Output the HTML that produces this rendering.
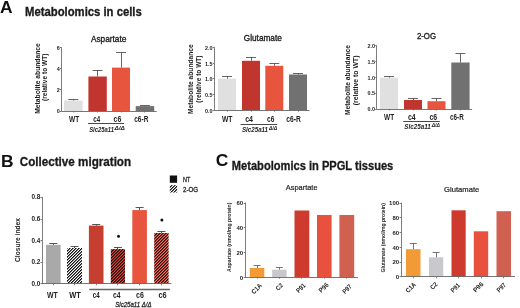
<!DOCTYPE html>
<html><head><meta charset="utf-8"><style>
html,body{margin:0;padding:0;background:#fff;width:520px;height:308px;overflow:hidden}
svg{display:block}
text{font-family:"Liberation Sans", Arial, sans-serif}
</style></head><body>
<svg width="520" height="308" viewBox="0 0 520 308">
<rect width="520" height="308" fill="#fff"/>
<text x="0.00" y="12.60" font-size="17.4" text-anchor="start" font-weight="bold" fill="#111">A</text>
<text x="25.00" y="16.00" font-size="12.0" text-anchor="start" stroke="#1a1a1a" stroke-width="0.3" font-weight="bold" fill="#1a1a1a" textLength="116.80" lengthAdjust="spacingAndGlyphs">Metabolomics in cells</text>
<text x="0.90" y="166.60" font-size="17.4" text-anchor="start" font-weight="bold" fill="#111">B</text>
<text x="19.80" y="166.30" font-size="12.0" text-anchor="start" stroke="#1a1a1a" stroke-width="0.3" font-weight="bold" fill="#1a1a1a" textLength="111.30" lengthAdjust="spacingAndGlyphs">Collective migration</text>
<text x="215.80" y="166.30" font-size="17.4" text-anchor="start" font-weight="bold" fill="#111">C</text>
<text x="231.80" y="170.20" font-size="12.0" text-anchor="start" stroke="#1a1a1a" stroke-width="0.3" font-weight="bold" fill="#1a1a1a" textLength="161.50" lengthAdjust="spacingAndGlyphs">Metabolomics in PPGL tissues</text>
<rect x="64.00" y="100.50" width="18.60" height="10.60" fill="#e0e0e0"/>
<line x1="73.50" y1="99.00" x2="73.50" y2="100.50" stroke="#555" stroke-width="0.9"/>
<line x1="68.30" y1="99.50" x2="78.30" y2="99.50" stroke="#555" stroke-width="0.9"/>
<rect x="88.40" y="76.50" width="18.40" height="34.60" fill="#c0352e"/>
<line x1="97.50" y1="70.30" x2="97.50" y2="76.50" stroke="#555" stroke-width="0.9"/>
<line x1="92.60" y1="70.50" x2="102.60" y2="70.50" stroke="#555" stroke-width="0.9"/>
<rect x="112.00" y="67.60" width="18.00" height="43.50" fill="#e8553f"/>
<line x1="121.50" y1="52.30" x2="121.50" y2="67.60" stroke="#555" stroke-width="0.9"/>
<line x1="116.00" y1="52.50" x2="126.00" y2="52.50" stroke="#555" stroke-width="0.9"/>
<rect x="135.70" y="106.10" width="18.50" height="5.00" fill="#717171"/>
<line x1="144.50" y1="105.10" x2="144.50" y2="106.10" stroke="#555" stroke-width="0.9"/>
<line x1="139.95" y1="105.50" x2="149.95" y2="105.50" stroke="#555" stroke-width="0.9"/>
<line x1="61.50" y1="47.20" x2="61.50" y2="111.50" stroke="#666" stroke-width="0.85"/>
<line x1="59.80" y1="111.50" x2="61.40" y2="111.50" stroke="#666" stroke-width="0.85"/>
<text x="59.70" y="113.34" font-size="5.4" text-anchor="end" font-weight="bold" fill="#1e1e1e">0</text>
<line x1="59.80" y1="89.50" x2="61.40" y2="89.50" stroke="#666" stroke-width="0.85"/>
<text x="59.70" y="92.18" font-size="5.4" text-anchor="end" font-weight="bold" fill="#1e1e1e">2</text>
<line x1="59.80" y1="68.50" x2="61.40" y2="68.50" stroke="#666" stroke-width="0.85"/>
<text x="59.70" y="71.01" font-size="5.4" text-anchor="end" font-weight="bold" fill="#1e1e1e">4</text>
<line x1="59.80" y1="47.50" x2="61.40" y2="47.50" stroke="#666" stroke-width="0.85"/>
<text x="59.70" y="49.84" font-size="5.4" text-anchor="end" font-weight="bold" fill="#1e1e1e">6</text>
<line x1="61.40" y1="111.50" x2="156.70" y2="111.50" stroke="#666" stroke-width="0.9"/>
<line x1="73.50" y1="111.10" x2="73.50" y2="112.50" stroke="#666" stroke-width="0.8"/>
<line x1="97.50" y1="111.10" x2="97.50" y2="112.50" stroke="#666" stroke-width="0.8"/>
<line x1="121.50" y1="111.10" x2="121.50" y2="112.50" stroke="#666" stroke-width="0.8"/>
<line x1="144.50" y1="111.10" x2="144.50" y2="112.50" stroke="#666" stroke-width="0.8"/>
<text x="91.00" y="42.10" font-size="8.7" text-anchor="start" stroke="#1e1e1e" stroke-width="0.35" fill="#1e1e1e" textLength="35.30" lengthAdjust="spacingAndGlyphs">Aspartate</text>
<text x="69.10" y="121.80" font-size="8.6" text-anchor="start" font-weight="bold" fill="#1e1e1e" textLength="10.20" lengthAdjust="spacingAndGlyphs">WT</text>
<text x="93.20" y="121.90" font-size="8.6" text-anchor="start" font-weight="bold" fill="#1e1e1e" textLength="6.90" lengthAdjust="spacingAndGlyphs">c4</text>
<text x="113.60" y="121.90" font-size="8.6" text-anchor="start" font-weight="bold" fill="#1e1e1e" textLength="7.70" lengthAdjust="spacingAndGlyphs">c6</text>
<text x="134.20" y="122.20" font-size="8.6" text-anchor="start" font-weight="bold" fill="#1e1e1e" textLength="14.20" lengthAdjust="spacingAndGlyphs">c6-R</text>
<line x1="88.00" y1="123.50" x2="124.00" y2="123.50" stroke="#333" stroke-width="0.9"/>
<text x="89.20" y="131.80" font-size="7.9" text-anchor="start" font-weight="bold" font-style="italic" fill="#1e1e1e" textLength="24.80" lengthAdjust="spacingAndGlyphs">Slc25a11</text>
<text x="114.40" y="129.60" font-size="5.2" text-anchor="start" font-weight="bold" font-style="italic" fill="#1e1e1e" textLength="10.40" lengthAdjust="spacingAndGlyphs">Δ/Δ</text>
<text x="39.60" y="78.50" font-size="7.4" text-anchor="middle" font-weight="bold" fill="#1e1e1e" textLength="70.50" lengthAdjust="spacingAndGlyphs" transform="rotate(-90 39.60 78.50)">Metabolite abundance</text>
<text x="47.00" y="77.30" font-size="7.4" text-anchor="middle" font-weight="bold" fill="#1e1e1e" textLength="47.30" lengthAdjust="spacingAndGlyphs" transform="rotate(-90 47.00 77.30)">(relative to WT)</text>
<rect x="218.00" y="78.60" width="18.00" height="31.70" fill="#e0e0e0"/>
<line x1="227.50" y1="76.30" x2="227.50" y2="78.60" stroke="#555" stroke-width="0.9"/>
<line x1="222.00" y1="76.50" x2="232.00" y2="76.50" stroke="#555" stroke-width="0.9"/>
<rect x="242.00" y="60.80" width="18.00" height="49.50" fill="#c0352e"/>
<line x1="251.50" y1="57.00" x2="251.50" y2="60.80" stroke="#555" stroke-width="0.9"/>
<line x1="246.00" y1="57.50" x2="256.00" y2="57.50" stroke="#555" stroke-width="0.9"/>
<rect x="265.30" y="65.80" width="18.00" height="44.50" fill="#e8553f"/>
<line x1="274.50" y1="63.00" x2="274.50" y2="65.80" stroke="#555" stroke-width="0.9"/>
<line x1="269.30" y1="63.50" x2="279.30" y2="63.50" stroke="#555" stroke-width="0.9"/>
<rect x="289.00" y="74.50" width="18.00" height="35.80" fill="#717171"/>
<line x1="298.50" y1="73.00" x2="298.50" y2="74.50" stroke="#555" stroke-width="0.9"/>
<line x1="293.00" y1="73.50" x2="303.00" y2="73.50" stroke="#555" stroke-width="0.9"/>
<line x1="214.50" y1="47.20" x2="214.50" y2="110.70" stroke="#666" stroke-width="0.85"/>
<line x1="212.70" y1="110.50" x2="214.30" y2="110.50" stroke="#666" stroke-width="0.85"/>
<text x="212.60" y="112.54" font-size="5.4" text-anchor="end" font-weight="bold" fill="#1e1e1e">0.0</text>
<line x1="212.70" y1="94.50" x2="214.30" y2="94.50" stroke="#666" stroke-width="0.85"/>
<text x="212.60" y="96.87" font-size="5.4" text-anchor="end" font-weight="bold" fill="#1e1e1e">0.5</text>
<line x1="212.70" y1="78.50" x2="214.30" y2="78.50" stroke="#666" stroke-width="0.85"/>
<text x="212.60" y="81.19" font-size="5.4" text-anchor="end" font-weight="bold" fill="#1e1e1e">1.0</text>
<line x1="212.70" y1="63.50" x2="214.30" y2="63.50" stroke="#666" stroke-width="0.85"/>
<text x="212.60" y="65.52" font-size="5.4" text-anchor="end" font-weight="bold" fill="#1e1e1e">1.5</text>
<line x1="212.70" y1="47.50" x2="214.30" y2="47.50" stroke="#666" stroke-width="0.85"/>
<text x="212.60" y="49.84" font-size="5.4" text-anchor="end" font-weight="bold" fill="#1e1e1e">2.0</text>
<line x1="214.30" y1="110.50" x2="309.50" y2="110.50" stroke="#666" stroke-width="0.9"/>
<line x1="227.50" y1="110.30" x2="227.50" y2="111.70" stroke="#666" stroke-width="0.8"/>
<line x1="251.50" y1="110.30" x2="251.50" y2="111.70" stroke="#666" stroke-width="0.8"/>
<line x1="274.50" y1="110.30" x2="274.50" y2="111.70" stroke="#666" stroke-width="0.8"/>
<line x1="298.50" y1="110.30" x2="298.50" y2="111.70" stroke="#666" stroke-width="0.8"/>
<text x="243.80" y="40.50" font-size="8.5" text-anchor="start" stroke="#1e1e1e" stroke-width="0.35" fill="#1e1e1e" textLength="38.00" lengthAdjust="spacingAndGlyphs">Glutamate</text>
<text x="221.90" y="122.30" font-size="8.6" text-anchor="start" font-weight="bold" fill="#1e1e1e" textLength="10.50" lengthAdjust="spacingAndGlyphs">WT</text>
<text x="245.20" y="122.30" font-size="8.6" text-anchor="start" font-weight="bold" fill="#1e1e1e" textLength="7.80" lengthAdjust="spacingAndGlyphs">c4</text>
<text x="267.10" y="122.30" font-size="8.6" text-anchor="start" font-weight="bold" fill="#1e1e1e" textLength="7.30" lengthAdjust="spacingAndGlyphs">c6</text>
<text x="286.30" y="122.30" font-size="8.6" text-anchor="start" font-weight="bold" fill="#1e1e1e" textLength="14.60" lengthAdjust="spacingAndGlyphs">c6-R</text>
<line x1="240.60" y1="124.50" x2="277.20" y2="124.50" stroke="#333" stroke-width="0.9"/>
<text x="242.00" y="131.90" font-size="7.9" text-anchor="start" font-weight="bold" font-style="italic" fill="#1e1e1e" textLength="26.00" lengthAdjust="spacingAndGlyphs">Slc25a11</text>
<text x="268.90" y="129.70" font-size="5.2" text-anchor="start" font-weight="bold" font-style="italic" fill="#1e1e1e" textLength="8.30" lengthAdjust="spacingAndGlyphs">Δ/Δ</text>
<text x="193.30" y="79.20" font-size="7.4" text-anchor="middle" font-weight="bold" fill="#1e1e1e" textLength="69.60" lengthAdjust="spacingAndGlyphs" transform="rotate(-90 193.30 79.20)">Metabolite abundance</text>
<text x="201.20" y="79.10" font-size="7.4" text-anchor="middle" font-weight="bold" fill="#1e1e1e" textLength="47.20" lengthAdjust="spacingAndGlyphs" transform="rotate(-90 201.20 79.10)">(relative to WT)</text>
<rect x="380.00" y="77.60" width="18.00" height="31.40" fill="#e0e0e0"/>
<line x1="389.50" y1="76.20" x2="389.50" y2="77.60" stroke="#555" stroke-width="0.9"/>
<line x1="384.00" y1="76.50" x2="394.00" y2="76.50" stroke="#555" stroke-width="0.9"/>
<rect x="404.00" y="100.00" width="18.00" height="9.00" fill="#c0352e"/>
<line x1="413.50" y1="98.00" x2="413.50" y2="100.00" stroke="#555" stroke-width="0.9"/>
<line x1="408.00" y1="98.50" x2="418.00" y2="98.50" stroke="#555" stroke-width="0.9"/>
<rect x="427.50" y="101.20" width="18.00" height="7.80" fill="#e8553f"/>
<line x1="436.50" y1="98.30" x2="436.50" y2="101.20" stroke="#555" stroke-width="0.9"/>
<line x1="431.50" y1="98.50" x2="441.50" y2="98.50" stroke="#555" stroke-width="0.9"/>
<rect x="451.30" y="62.50" width="18.30" height="46.50" fill="#717171"/>
<line x1="460.50" y1="53.60" x2="460.50" y2="62.50" stroke="#555" stroke-width="0.9"/>
<line x1="455.45" y1="53.50" x2="465.45" y2="53.50" stroke="#555" stroke-width="0.9"/>
<line x1="376.50" y1="45.40" x2="376.50" y2="109.40" stroke="#666" stroke-width="0.85"/>
<line x1="375.20" y1="109.50" x2="376.80" y2="109.50" stroke="#666" stroke-width="0.85"/>
<text x="375.10" y="111.24" font-size="5.4" text-anchor="end" font-weight="bold" fill="#1e1e1e">0.0</text>
<line x1="375.20" y1="93.50" x2="376.80" y2="93.50" stroke="#666" stroke-width="0.85"/>
<text x="375.10" y="95.44" font-size="5.4" text-anchor="end" font-weight="bold" fill="#1e1e1e">0.5</text>
<line x1="375.20" y1="77.50" x2="376.80" y2="77.50" stroke="#666" stroke-width="0.85"/>
<text x="375.10" y="79.64" font-size="5.4" text-anchor="end" font-weight="bold" fill="#1e1e1e">1.0</text>
<line x1="375.20" y1="61.50" x2="376.80" y2="61.50" stroke="#666" stroke-width="0.85"/>
<text x="375.10" y="63.84" font-size="5.4" text-anchor="end" font-weight="bold" fill="#1e1e1e">1.5</text>
<line x1="375.20" y1="45.50" x2="376.80" y2="45.50" stroke="#666" stroke-width="0.85"/>
<text x="375.10" y="48.04" font-size="5.4" text-anchor="end" font-weight="bold" fill="#1e1e1e">2.0</text>
<line x1="376.80" y1="109.50" x2="472.10" y2="109.50" stroke="#666" stroke-width="0.9"/>
<line x1="389.50" y1="109.00" x2="389.50" y2="110.40" stroke="#666" stroke-width="0.8"/>
<line x1="413.50" y1="109.00" x2="413.50" y2="110.40" stroke="#666" stroke-width="0.8"/>
<line x1="436.50" y1="109.00" x2="436.50" y2="110.40" stroke="#666" stroke-width="0.8"/>
<line x1="460.50" y1="109.00" x2="460.50" y2="110.40" stroke="#666" stroke-width="0.8"/>
<text x="416.90" y="38.50" font-size="8.8" text-anchor="start" stroke="#1e1e1e" stroke-width="0.35" fill="#1e1e1e" textLength="19.20" lengthAdjust="spacingAndGlyphs">2-OG</text>
<text x="384.10" y="119.70" font-size="8.6" text-anchor="start" font-weight="bold" fill="#1e1e1e" textLength="10.10" lengthAdjust="spacingAndGlyphs">WT</text>
<text x="407.90" y="119.70" font-size="8.6" text-anchor="start" font-weight="bold" fill="#1e1e1e" textLength="7.70" lengthAdjust="spacingAndGlyphs">c4</text>
<text x="429.50" y="119.70" font-size="8.6" text-anchor="start" font-weight="bold" fill="#1e1e1e" textLength="7.70" lengthAdjust="spacingAndGlyphs">c6</text>
<text x="450.00" y="119.70" font-size="8.6" text-anchor="start" font-weight="bold" fill="#1e1e1e" textLength="13.70" lengthAdjust="spacingAndGlyphs">c6-R</text>
<line x1="403.30" y1="121.50" x2="439.90" y2="121.50" stroke="#333" stroke-width="0.9"/>
<text x="404.30" y="129.30" font-size="7.9" text-anchor="start" font-weight="bold" font-style="italic" fill="#1e1e1e" textLength="26.50" lengthAdjust="spacingAndGlyphs">Slc25a11</text>
<text x="431.70" y="127.10" font-size="5.2" text-anchor="start" font-weight="bold" font-style="italic" fill="#1e1e1e" textLength="8.20" lengthAdjust="spacingAndGlyphs">Δ/Δ</text>
<text x="350.20" y="80.10" font-size="7.4" text-anchor="middle" font-weight="bold" fill="#1e1e1e" textLength="70.00" lengthAdjust="spacingAndGlyphs" transform="rotate(-90 350.20 80.10)">Metabolite abundance</text>
<text x="357.80" y="80.40" font-size="7.4" text-anchor="middle" font-weight="bold" fill="#1e1e1e" textLength="49.80" lengthAdjust="spacingAndGlyphs" transform="rotate(-90 357.80 80.40)">(relative to WT)</text>
<defs><pattern id="hk" patternUnits="userSpaceOnUse" width="3" height="3"><rect width="3" height="3" fill="#fff"/><rect x="2" y="0" width="1" height="1" fill="#111"/><rect x="1" y="1" width="1" height="1" fill="#111"/><rect x="0" y="2" width="1" height="1" fill="#111"/><rect x="0" y="0" width="1" height="1" fill="#777"/><rect x="2" y="1" width="1" height="1" fill="#777"/><rect x="1" y="2" width="1" height="1" fill="#777"/></pattern><pattern id="h4" patternUnits="userSpaceOnUse" width="3" height="3"><rect width="3" height="3" fill="#d04a3c"/><rect x="2" y="0" width="1" height="1" fill="#220404"/><rect x="1" y="1" width="1" height="1" fill="#220404"/><rect x="0" y="2" width="1" height="1" fill="#220404"/><rect x="0" y="0" width="1" height="1" fill="#7a1f18"/><rect x="2" y="1" width="1" height="1" fill="#7a1f18"/><rect x="1" y="2" width="1" height="1" fill="#7a1f18"/></pattern><pattern id="h6" patternUnits="userSpaceOnUse" width="3" height="3"><rect width="3" height="3" fill="#f26e56"/><rect x="2" y="0" width="1" height="1" fill="#2a0505"/><rect x="1" y="1" width="1" height="1" fill="#2a0505"/><rect x="0" y="2" width="1" height="1" fill="#2a0505"/><rect x="0" y="0" width="1" height="1" fill="#8e3226"/><rect x="2" y="1" width="1" height="1" fill="#8e3226"/><rect x="1" y="2" width="1" height="1" fill="#8e3226"/></pattern></defs>
<rect x="46.00" y="244.80" width="14.60" height="39.00" fill="#a9a9a9"/>
<line x1="53.50" y1="243.30" x2="53.50" y2="244.80" stroke="#444" stroke-width="0.9"/>
<line x1="49.30" y1="243.50" x2="57.30" y2="243.50" stroke="#444" stroke-width="0.9"/>
<rect x="67.00" y="248.00" width="15.00" height="35.80" fill="url(#hk)"/>
<line x1="74.50" y1="246.40" x2="74.50" y2="248.00" stroke="#444" stroke-width="0.9"/>
<line x1="70.50" y1="246.50" x2="78.50" y2="246.50" stroke="#444" stroke-width="0.9"/>
<rect x="88.90" y="225.60" width="14.60" height="58.20" fill="#c63e30"/>
<line x1="96.50" y1="224.50" x2="96.50" y2="225.60" stroke="#444" stroke-width="0.9"/>
<line x1="92.20" y1="224.50" x2="100.20" y2="224.50" stroke="#444" stroke-width="0.9"/>
<rect x="110.80" y="249.10" width="14.20" height="34.70" fill="url(#h4)"/>
<line x1="117.50" y1="247.30" x2="117.50" y2="249.10" stroke="#444" stroke-width="0.9"/>
<line x1="113.90" y1="247.50" x2="121.90" y2="247.50" stroke="#444" stroke-width="0.9"/>
<rect x="132.30" y="210.10" width="14.60" height="73.70" fill="#e8553f"/>
<line x1="139.50" y1="207.80" x2="139.50" y2="210.10" stroke="#444" stroke-width="0.9"/>
<line x1="135.60" y1="207.50" x2="143.60" y2="207.50" stroke="#444" stroke-width="0.9"/>
<rect x="154.20" y="233.00" width="14.40" height="50.80" fill="url(#h6)"/>
<line x1="161.50" y1="231.00" x2="161.50" y2="233.00" stroke="#444" stroke-width="0.9"/>
<line x1="157.40" y1="231.50" x2="165.40" y2="231.50" stroke="#444" stroke-width="0.9"/>
<line x1="42.50" y1="197.00" x2="42.50" y2="284.20" stroke="#666" stroke-width="0.85"/>
<line x1="40.50" y1="283.50" x2="42.10" y2="283.50" stroke="#666" stroke-width="0.85"/>
<text x="40.40" y="285.70" font-size="6.4" text-anchor="end" font-weight="bold" fill="#1e1e1e">0.0</text>
<line x1="40.50" y1="262.50" x2="42.10" y2="262.50" stroke="#666" stroke-width="0.85"/>
<text x="40.40" y="264.10" font-size="6.4" text-anchor="end" font-weight="bold" fill="#1e1e1e">0.2</text>
<line x1="40.50" y1="240.50" x2="42.10" y2="240.50" stroke="#666" stroke-width="0.85"/>
<text x="40.40" y="242.50" font-size="6.4" text-anchor="end" font-weight="bold" fill="#1e1e1e">0.4</text>
<line x1="40.50" y1="219.50" x2="42.10" y2="219.50" stroke="#666" stroke-width="0.85"/>
<text x="40.40" y="220.90" font-size="6.4" text-anchor="end" font-weight="bold" fill="#1e1e1e">0.6</text>
<line x1="40.50" y1="197.50" x2="42.10" y2="197.50" stroke="#666" stroke-width="0.85"/>
<text x="40.40" y="199.30" font-size="6.4" text-anchor="end" font-weight="bold" fill="#1e1e1e">0.8</text>
<line x1="42.10" y1="283.50" x2="171.30" y2="283.50" stroke="#666" stroke-width="0.9"/>
<line x1="53.50" y1="283.80" x2="53.50" y2="285.30" stroke="#666" stroke-width="0.8"/>
<line x1="74.50" y1="283.80" x2="74.50" y2="285.30" stroke="#666" stroke-width="0.8"/>
<line x1="96.50" y1="283.80" x2="96.50" y2="285.30" stroke="#666" stroke-width="0.8"/>
<line x1="117.50" y1="283.80" x2="117.50" y2="285.30" stroke="#666" stroke-width="0.8"/>
<line x1="139.50" y1="283.80" x2="139.50" y2="285.30" stroke="#666" stroke-width="0.8"/>
<line x1="161.50" y1="283.80" x2="161.50" y2="285.30" stroke="#666" stroke-width="0.8"/>
<circle cx="118.5" cy="236.2" r="1.5" fill="#111"/>
<circle cx="161.9" cy="220.0" r="1.5" fill="#111"/>
<line x1="89.30" y1="289.50" x2="169.80" y2="289.50" stroke="#666" stroke-width="1.3"/>
<text x="46.90" y="298.20" font-size="8.4" text-anchor="start" font-weight="bold" fill="#1e1e1e" textLength="10.80" lengthAdjust="spacingAndGlyphs">WT</text>
<text x="69.20" y="298.20" font-size="8.4" text-anchor="start" font-weight="bold" fill="#1e1e1e" textLength="11.60" lengthAdjust="spacingAndGlyphs">WT</text>
<text x="92.80" y="298.20" font-size="8.4" text-anchor="start" font-weight="bold" fill="#1e1e1e" textLength="6.90" lengthAdjust="spacingAndGlyphs">c4</text>
<text x="113.00" y="298.20" font-size="8.4" text-anchor="start" font-weight="bold" fill="#1e1e1e" textLength="7.50" lengthAdjust="spacingAndGlyphs">c4</text>
<text x="136.00" y="298.20" font-size="8.4" text-anchor="start" font-weight="bold" fill="#1e1e1e" textLength="7.80" lengthAdjust="spacingAndGlyphs">c6</text>
<text x="158.50" y="298.20" font-size="8.4" text-anchor="start" font-weight="bold" fill="#1e1e1e" textLength="8.20" lengthAdjust="spacingAndGlyphs">c6</text>
<text x="115.30" y="306.80" font-size="7.8" text-anchor="start" stroke="#222" stroke-width="0.3" font-style="italic" fill="#222" textLength="36.30" lengthAdjust="spacingAndGlyphs">Slc25a11 Δ/Δ</text>
<text x="19.60" y="240.00" font-size="7.2" text-anchor="middle" font-weight="bold" fill="#1e1e1e" textLength="44.00" lengthAdjust="spacingAndGlyphs" transform="rotate(-90 19.60 240.00)">Closure index</text>
<rect x="169.80" y="175.50" width="7.30" height="7.30" fill="#111"/>
<rect x="169.8" y="185.2" width="7.3" height="7.3" fill="url(#hk)"/>
<text x="183.00" y="182.20" font-size="7" text-anchor="start" stroke="#1e1e1e" stroke-width="0.3" fill="#1e1e1e" textLength="7.30" lengthAdjust="spacingAndGlyphs">NT</text>
<text x="183.00" y="191.60" font-size="7" text-anchor="start" stroke="#1e1e1e" stroke-width="0.3" fill="#1e1e1e" textLength="15.00" lengthAdjust="spacingAndGlyphs">2-OG</text>
<rect x="249.80" y="268.00" width="14.50" height="9.20" fill="#f29a35"/>
<line x1="257.50" y1="265.40" x2="257.50" y2="268.00" stroke="#666" stroke-width="0.9"/>
<line x1="253.55" y1="265.50" x2="260.55" y2="265.50" stroke="#666" stroke-width="0.9"/>
<rect x="272.20" y="269.70" width="14.40" height="7.50" fill="#c9c9cd"/>
<line x1="279.50" y1="267.40" x2="279.50" y2="269.70" stroke="#666" stroke-width="0.9"/>
<line x1="275.90" y1="267.50" x2="282.90" y2="267.50" stroke="#666" stroke-width="0.9"/>
<rect x="294.50" y="210.50" width="14.80" height="66.70" fill="#cf3a2f"/>
<rect x="317.00" y="215.00" width="14.60" height="62.20" fill="#e8513d"/>
<rect x="339.40" y="215.00" width="14.80" height="62.20" fill="#d0604f"/>
<line x1="245.50" y1="202.60" x2="245.50" y2="277.60" stroke="#666" stroke-width="0.85"/>
<line x1="243.70" y1="277.50" x2="245.30" y2="277.50" stroke="#666" stroke-width="0.85"/>
<text x="243.20" y="279.56" font-size="6.0" text-anchor="end" font-weight="bold" fill="#1e1e1e">0</text>
<line x1="243.70" y1="252.50" x2="245.30" y2="252.50" stroke="#666" stroke-width="0.85"/>
<text x="243.20" y="254.83" font-size="6.0" text-anchor="end" font-weight="bold" fill="#1e1e1e">20</text>
<line x1="243.70" y1="227.50" x2="245.30" y2="227.50" stroke="#666" stroke-width="0.85"/>
<text x="243.20" y="230.09" font-size="6.0" text-anchor="end" font-weight="bold" fill="#1e1e1e">40</text>
<line x1="243.70" y1="203.50" x2="245.30" y2="203.50" stroke="#666" stroke-width="0.85"/>
<text x="243.20" y="205.36" font-size="6.0" text-anchor="end" font-weight="bold" fill="#1e1e1e">60</text>
<line x1="245.30" y1="277.50" x2="358.00" y2="277.50" stroke="#666" stroke-width="0.9"/>
<line x1="257.50" y1="277.20" x2="257.50" y2="278.70" stroke="#666" stroke-width="0.8"/>
<line x1="279.50" y1="277.20" x2="279.50" y2="278.70" stroke="#666" stroke-width="0.8"/>
<line x1="301.50" y1="277.20" x2="301.50" y2="278.70" stroke="#666" stroke-width="0.8"/>
<line x1="324.50" y1="277.20" x2="324.50" y2="278.70" stroke="#666" stroke-width="0.8"/>
<line x1="346.50" y1="277.20" x2="346.50" y2="278.70" stroke="#666" stroke-width="0.8"/>
<text x="258.20" y="290.20" font-size="6.6" text-anchor="middle" font-weight="bold" fill="#1e1e1e" textLength="12.00" lengthAdjust="spacingAndGlyphs" transform="rotate(-45 258.20 290.20)">C1A</text>
<text x="280.90" y="288.40" font-size="6.6" text-anchor="middle" font-weight="bold" fill="#1e1e1e" textLength="7.30" lengthAdjust="spacingAndGlyphs" transform="rotate(-45 280.90 288.40)">C2</text>
<text x="302.40" y="289.70" font-size="6.6" text-anchor="middle" font-weight="bold" fill="#1e1e1e" textLength="10.30" lengthAdjust="spacingAndGlyphs" transform="rotate(-45 302.40 289.70)">P91</text>
<text x="325.20" y="289.20" font-size="6.6" text-anchor="middle" font-weight="bold" fill="#1e1e1e" textLength="11.00" lengthAdjust="spacingAndGlyphs" transform="rotate(-45 325.20 289.20)">P96</text>
<text x="348.70" y="290.70" font-size="6.6" text-anchor="middle" font-weight="bold" fill="#1e1e1e" textLength="10.30" lengthAdjust="spacingAndGlyphs" transform="rotate(-45 348.70 290.70)">P97</text>
<text x="285.80" y="190.40" font-size="7.8" text-anchor="start" stroke="#1e1e1e" stroke-width="0.2" fill="#1e1e1e" textLength="31.70" lengthAdjust="spacingAndGlyphs">Aspartate</text>
<text x="231.40" y="237.30" font-size="5.0" text-anchor="middle" font-weight="bold" fill="#1e1e1e" textLength="69.50" lengthAdjust="spacingAndGlyphs" transform="rotate(-90 231.40 237.30)">Aspartate (nmol/mg protein)</text>
<rect x="406.00" y="249.20" width="14.50" height="27.60" fill="#f29a35"/>
<line x1="413.50" y1="243.00" x2="413.50" y2="249.20" stroke="#666" stroke-width="0.9"/>
<line x1="409.75" y1="243.50" x2="416.75" y2="243.50" stroke="#666" stroke-width="0.9"/>
<rect x="429.00" y="257.30" width="14.20" height="19.50" fill="#c9c9cd"/>
<line x1="436.50" y1="252.60" x2="436.50" y2="257.30" stroke="#666" stroke-width="0.9"/>
<line x1="432.60" y1="252.50" x2="439.60" y2="252.50" stroke="#666" stroke-width="0.9"/>
<rect x="451.50" y="210.30" width="14.20" height="66.50" fill="#cf3a2f"/>
<rect x="473.80" y="231.30" width="14.40" height="45.50" fill="#e8513d"/>
<rect x="496.50" y="211.20" width="14.50" height="65.60" fill="#d0604f"/>
<line x1="401.50" y1="202.60" x2="401.50" y2="277.20" stroke="#666" stroke-width="0.85"/>
<line x1="399.60" y1="276.50" x2="401.20" y2="276.50" stroke="#666" stroke-width="0.85"/>
<text x="399.10" y="279.16" font-size="6.0" text-anchor="end" font-weight="bold" fill="#1e1e1e">0</text>
<line x1="399.60" y1="262.50" x2="401.20" y2="262.50" stroke="#666" stroke-width="0.85"/>
<text x="399.10" y="264.40" font-size="6.0" text-anchor="end" font-weight="bold" fill="#1e1e1e">20</text>
<line x1="399.60" y1="247.50" x2="401.20" y2="247.50" stroke="#666" stroke-width="0.85"/>
<text x="399.10" y="249.64" font-size="6.0" text-anchor="end" font-weight="bold" fill="#1e1e1e">40</text>
<line x1="399.60" y1="232.50" x2="401.20" y2="232.50" stroke="#666" stroke-width="0.85"/>
<text x="399.10" y="234.88" font-size="6.0" text-anchor="end" font-weight="bold" fill="#1e1e1e">60</text>
<line x1="399.60" y1="217.50" x2="401.20" y2="217.50" stroke="#666" stroke-width="0.85"/>
<text x="399.10" y="220.12" font-size="6.0" text-anchor="end" font-weight="bold" fill="#1e1e1e">80</text>
<line x1="399.60" y1="203.50" x2="401.20" y2="203.50" stroke="#666" stroke-width="0.85"/>
<text x="399.10" y="205.36" font-size="6.0" text-anchor="end" font-weight="bold" fill="#1e1e1e">100</text>
<line x1="401.20" y1="276.50" x2="515.00" y2="276.50" stroke="#666" stroke-width="0.9"/>
<line x1="413.50" y1="276.80" x2="413.50" y2="278.30" stroke="#666" stroke-width="0.8"/>
<line x1="436.50" y1="276.80" x2="436.50" y2="278.30" stroke="#666" stroke-width="0.8"/>
<line x1="458.50" y1="276.80" x2="458.50" y2="278.30" stroke="#666" stroke-width="0.8"/>
<line x1="481.50" y1="276.80" x2="481.50" y2="278.30" stroke="#666" stroke-width="0.8"/>
<line x1="503.50" y1="276.80" x2="503.50" y2="278.30" stroke="#666" stroke-width="0.8"/>
<text x="412.40" y="289.20" font-size="6.6" text-anchor="middle" font-weight="bold" fill="#1e1e1e" textLength="11.60" lengthAdjust="spacingAndGlyphs" transform="rotate(-45 412.40 289.20)">C1A</text>
<text x="435.40" y="287.40" font-size="6.6" text-anchor="middle" font-weight="bold" fill="#1e1e1e" textLength="7.30" lengthAdjust="spacingAndGlyphs" transform="rotate(-45 435.40 287.40)">C2</text>
<text x="456.90" y="289.40" font-size="6.6" text-anchor="middle" font-weight="bold" fill="#1e1e1e" textLength="10.10" lengthAdjust="spacingAndGlyphs" transform="rotate(-45 456.90 289.40)">P91</text>
<text x="479.90" y="288.70" font-size="6.6" text-anchor="middle" font-weight="bold" fill="#1e1e1e" textLength="11.40" lengthAdjust="spacingAndGlyphs" transform="rotate(-45 479.90 288.70)">P96</text>
<text x="502.90" y="289.20" font-size="6.6" text-anchor="middle" font-weight="bold" fill="#1e1e1e" textLength="10.10" lengthAdjust="spacingAndGlyphs" transform="rotate(-45 502.90 289.20)">P97</text>
<text x="444.10" y="191.70" font-size="8.0" text-anchor="start" stroke="#1e1e1e" stroke-width="0.2" fill="#1e1e1e" textLength="35.20" lengthAdjust="spacingAndGlyphs">Glutamate</text>
<text x="385.40" y="237.80" font-size="5.0" text-anchor="middle" font-weight="bold" fill="#1e1e1e" textLength="69.30" lengthAdjust="spacingAndGlyphs" transform="rotate(-90 385.40 237.80)">Glutamate (nmol/mg protein)</text>
</svg>
</body></html>
